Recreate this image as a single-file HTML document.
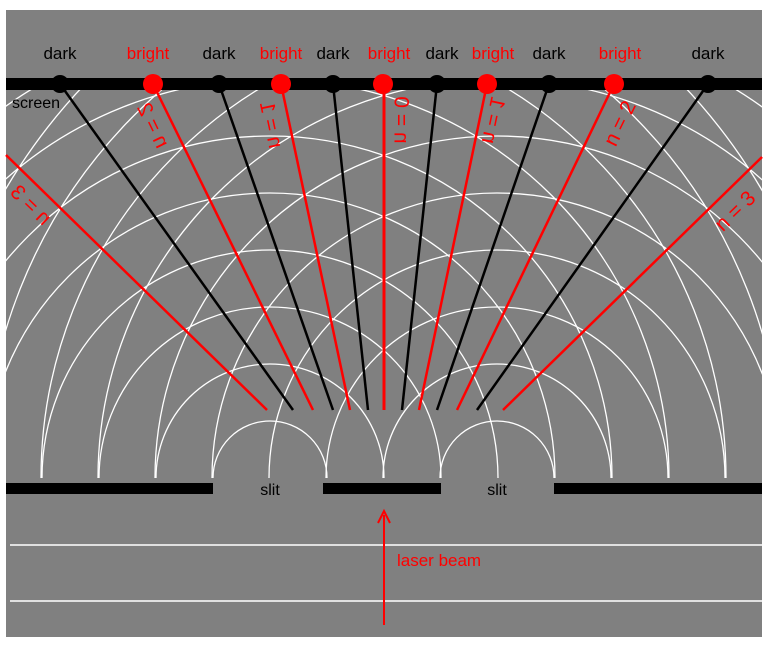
<!DOCTYPE html>
<html><head><style>html,body{margin:0;background:#fff;overflow:hidden;width:768px;height:647px}svg{display:block}text{font-family:"Liberation Sans",sans-serif}</style></head><body>
<svg width="768" height="647" viewBox="0 0 768 647" xmlns="http://www.w3.org/2000/svg" style="overflow:hidden">
<defs><clipPath id="c"><rect x="6" y="84" width="756" height="394"/></clipPath></defs>
<rect x="6" y="10" width="756" height="627" fill="#808080"/>
<g clip-path="url(#c)" fill="none" stroke="#fff" stroke-width="1.3">
<circle cx="270" cy="478" r="57"/><circle cx="270" cy="478" r="114"/><circle cx="270" cy="478" r="171"/><circle cx="270" cy="478" r="228"/><circle cx="270" cy="478" r="285"/><circle cx="270" cy="478" r="342"/><circle cx="270" cy="478" r="399"/><circle cx="270" cy="478" r="456"/><circle cx="270" cy="478" r="513"/><circle cx="270" cy="478" r="570"/><circle cx="270" cy="478" r="627"/>
<circle cx="497" cy="478" r="57"/><circle cx="497" cy="478" r="114"/><circle cx="497" cy="478" r="171"/><circle cx="497" cy="478" r="228"/><circle cx="497" cy="478" r="285"/><circle cx="497" cy="478" r="342"/><circle cx="497" cy="478" r="399"/><circle cx="497" cy="478" r="456"/><circle cx="497" cy="478" r="513"/><circle cx="497" cy="478" r="570"/><circle cx="497" cy="478" r="627"/>
</g>
<g stroke-width="2.5">
<line x1="267" y1="410" x2="6" y2="155" stroke="#f00"/>
<line x1="293" y1="410" x2="60" y2="84" stroke="#000"/>
<line x1="313" y1="410" x2="153" y2="84" stroke="#f00"/>
<line x1="333" y1="410" x2="219" y2="84" stroke="#000"/>
<line x1="350" y1="410" x2="281" y2="84" stroke="#f00"/>
<line x1="368" y1="410" x2="333" y2="84" stroke="#000"/>
<line x1="384" y1="410" x2="384" y2="84" stroke="#f00" stroke-width="3"/>
<line x1="402" y1="410" x2="437" y2="84" stroke="#000"/>
<line x1="419" y1="410" x2="487" y2="84" stroke="#f00"/>
<line x1="437" y1="410" x2="549" y2="84" stroke="#000"/>
<line x1="457" y1="410" x2="614" y2="84" stroke="#f00"/>
<line x1="477" y1="410" x2="708" y2="84" stroke="#000"/>
<line x1="503" y1="410" x2="762" y2="157" stroke="#f00"/>
</g>
<rect x="6" y="78" width="756" height="12" fill="#000"/>
<g fill="#000"><circle cx="60" cy="84" r="9"/><circle cx="219" cy="84" r="9"/><circle cx="333" cy="84" r="9"/><circle cx="437" cy="84" r="9"/><circle cx="549" cy="84" r="9"/><circle cx="708" cy="84" r="9"/></g>
<g fill="#f00"><circle cx="153" cy="84" r="10"/><circle cx="281" cy="84" r="10"/><circle cx="383" cy="84" r="10"/><circle cx="487" cy="84" r="10"/><circle cx="614" cy="84" r="10"/></g>
<g font-size="17" text-anchor="middle">
<text x="60" y="59">dark</text><text x="219" y="59">dark</text><text x="333" y="59">dark</text><text x="442" y="59">dark</text><text x="549" y="59">dark</text><text x="708" y="59">dark</text>
<g fill="#f00"><text x="148" y="59">bright</text><text x="281" y="59">bright</text><text x="389" y="59">bright</text><text x="493" y="59">bright</text><text x="620" y="59">bright</text></g>
</g>
<text x="12" y="108" font-size="16">screen</text>
<g font-size="21" fill="#f00" text-anchor="middle" dominant-baseline="middle">
<text transform="translate(400,120) rotate(-90) scale(1,-1)">n = 0</text>
<text transform="translate(270,125) rotate(-102) scale(1,-1)">n = 1</text>
<text transform="translate(152,126) rotate(-116) scale(1,-1)">n = 2</text>
<text transform="translate(30,206) rotate(-136) scale(1,-1)">n = 3</text>
<text transform="translate(492,120) rotate(-78) scale(1,-1)">n = 1</text>
<text transform="translate(621,124) rotate(-64)">n = 2</text>
<text transform="translate(736,212) rotate(-44)">n = 3</text>
</g>
<g fill="#000"><rect x="6" y="483" width="207" height="11"/><rect x="323" y="483" width="118" height="11"/><rect x="554" y="483" width="208" height="11"/></g>
<text x="270" y="495" font-size="16" text-anchor="middle">slit</text>
<text x="497" y="495" font-size="16" text-anchor="middle">slit</text>
<line x1="10" y1="545" x2="762" y2="545" stroke="#fff" stroke-width="1.5"/>
<line x1="10" y1="601" x2="762" y2="601" stroke="#fff" stroke-width="1.5"/>
<line x1="384" y1="625" x2="384" y2="515" stroke="#f00" stroke-width="2"/>
<path d="M378 523 L384 511 L390 523" fill="none" stroke="#f00" stroke-width="2"/>
<text x="397" y="566" font-size="17" fill="#f00">laser beam</text>
</svg>
</body></html>
